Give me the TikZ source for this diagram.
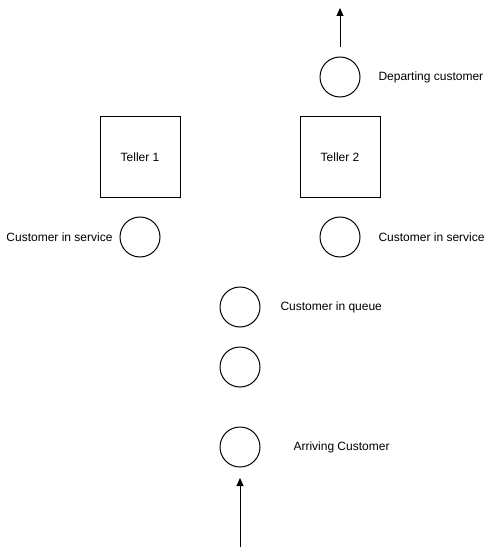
\documentclass[tikz,border=0pt]{standalone}
\usepackage{fontspec}
\setmainfont{Liberation Sans}
\usetikzlibrary{arrows.meta}
\begin{document}
\begin{tikzpicture}[x=1pt,y=-1pt,line width=1pt,
		cust/.style={draw,circle,minimum size=40pt,inner sep=0pt},
		teller/.style={draw,rectangle,minimum size=80pt,inner sep=0pt,font=\fontsize{12}{14}\selectfont},
		lbl/.style={font=\fontsize{12}{14}\selectfont,inner sep=0pt},
		flow/.style={-{Triangle[length=8pt,width=7pt]}}]
			\useasboundingbox (0,0) rectangle (491,556);
			\node [teller] (t1) at (140,157) {Teller 1};
			\node [teller] (t2) at (340,157) {Teller 2};
			\node [cust] (dep) at (340,77) {};
			\node [cust] (s1) at (140,237) {};
			\node [cust] (s2) at (340,237) {};
			\node [cust] (q1) at (240,307) {};
			\node [cust] (q2) at (240,367) {};
			\node [cust] (arr) at (240,447) {};
			\node [lbl,anchor=west] (deplbl) at (378,77) {Departing customer};
			\node [lbl,anchor=east] (s1lbl) at (113,237) {Customer in service};
			\node [lbl,anchor=west] (s2lbl) at (378,237) {Customer in service};
			\node [lbl,anchor=west] (q1lbl) at (280,307) {Customer in queue};
			\node [lbl,anchor=west] (arrlbl) at (293,447) {Arriving Customer};
			\coordinate (out0) at (340,47);
			\coordinate (out1) at (340,8);
			\coordinate (in0) at (240,547);
			\coordinate (in1) at (240,478);
			\draw [flow] (out0) -- (out1);
			\draw [flow] (in0) -- (in1);
		\end{tikzpicture}
\end{document}
